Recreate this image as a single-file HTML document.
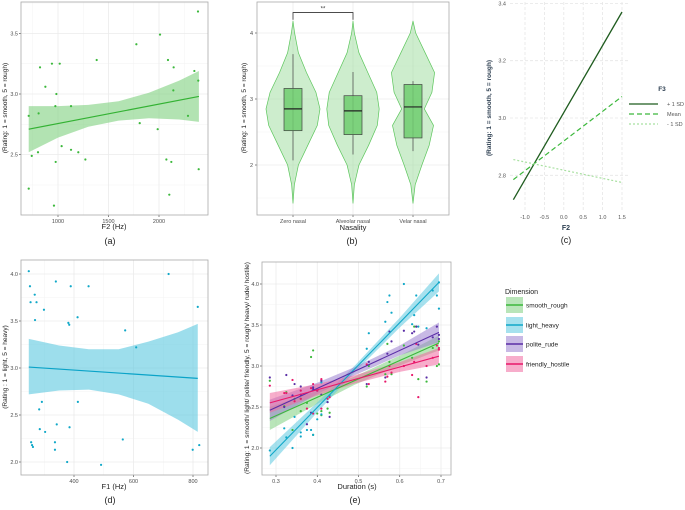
<!DOCTYPE html>
<html><head><meta charset="utf-8"><style>
html,body{margin:0;padding:0;background:#fff}
svg{display:block;font-family:"Liberation Sans",sans-serif}
</style></head><body>
<svg id="fig" width="685" height="510" viewBox="0 0 685 510" xmlns="http://www.w3.org/2000/svg"></svg>
<script>
// ---------- DATA ----------
// (a) F2 vs roughness
const aF2 = [710,740,710,822,808,875,802,940,1017,984,974,1129,1036,1129,1201,977,1271,960,1383,1776,1809,2010,1987,2089,2145,2142,2073,2122,2102,2287,2350,2389,2386,2393];
const aRating = [2.82,2.49,2.22,3.22,2.84,3.06,2.52,3.25,3.25,3.0,2.9,2.9,2.57,2.54,2.52,2.44,2.46,2.08,3.28,3.41,2.76,3.49,2.71,3.28,3.22,3.03,2.46,2.44,2.17,2.82,3.19,3.11,3.68,2.38];
const aFitX = [710,2395];
const aFitY = [2.71,2.98];
const aBandX = [710,1000,1300,1600,1900,2200,2395];
const aBandLo = [2.52,2.64,2.73,2.78,2.80,2.79,2.77];
const aBandHi = [2.90,2.90,2.91,2.94,3.01,3.11,3.19];
const aXTicks = [1000,1500,2000];
const aYTicks = [2.5,3.0,3.5];
// (b) nasality violins
const bCats = ["Zero nasal","Alveolar nasal","Velar nasal"];
const bGrid = [1.42,1.7,2.0,2.3,2.6,2.85,3.1,3.4,3.7,4.0,4.18];
const bDensZero = [0,0.05,0.2,0.55,0.9,1.0,0.85,0.5,0.2,0.06,0];
const bDensAlv = [0,0.05,0.22,0.58,0.9,0.97,0.88,0.55,0.22,0.05,0];
const bDensVel = [0,0.08,0.33,0.6,0.76,0.42,0.7,0.8,0.45,0.1,0];
const bQ1 = [2.52,2.46,2.41];
const bMed = [2.85,2.82,2.88];
const bQ3 = [3.16,3.05,3.22];
const bLo = [2.07,2.16,2.21];
const bHi = [3.68,3.41,3.27];
const bYTicks = [2,3,4];
// (c) interaction
const cX = [-1.3,1.5];
const cPlus = [2.715,3.37];
const cMean = [2.785,3.075];
const cMinus = [2.855,2.775];
const cXTicks = [-1.0,-0.5,0.0,0.5,1.0,1.5];
const cYTicks = [2.8,3.0,3.2,3.4];
const cLegend = ["+ 1 SD","Mean","- 1 SD"];
// (d) F1 vs heaviness
const dF1 = [248,252,254,268,274,269,299,339,389,449,412,381,384,572,609,718,816,292,283,413,285,303,342,385,256,259,262,336,336,377,491,564,799,821];
const dRating = [4.03,3.87,3.70,3.78,3.70,3.51,3.62,3.92,3.87,3.87,3.54,3.48,3.46,3.40,3.22,4.0,3.65,2.64,2.56,2.64,2.35,2.32,2.40,2.37,2.21,2.18,2.16,2.21,2.13,2.0,1.97,2.24,2.13,2.18];
const dFitX = [248,816];
const dFitY = [3.01,2.89];
const dBandX = [248,350,450,550,650,750,816];
const dBandLo = [2.72,2.76,2.77,2.72,2.62,2.45,2.32];
const dBandHi = [3.31,3.24,3.20,3.20,3.28,3.38,3.47];
const dXTicks = [400,600,800];
const dYTicks = [2.0,2.5,3.0,3.5,4.0];
// (e) duration vs all dimensions
const eDur = [0.285,0.32,0.325,0.34,0.345,0.36,0.36,0.375,0.385,0.39,0.39,0.40,0.41,0.41,0.425,0.43,0.52,0.525,0.565,0.57,0.575,0.58,0.61,0.63,0.635,0.64,0.645,0.665,0.68,0.69,0.695,0.695];
const eSmooth = [2.82,2.51,2.68,2.22,2.6,2.45,2.6,2.55,3.11,3.19,2.16,2.42,2.4,2.45,2.48,2.43,2.75,3.0,2.9,3.27,3.05,2.9,3.25,3.1,3.48,3.48,2.84,2.81,3.22,3.0,3.02,3.3];
const eLight = [1.97,2.24,2.13,2.0,2.38,2.14,2.19,2.22,2.22,2.42,2.16,2.35,2.41,2.8,2.56,2.64,3.21,3.40,3.54,3.78,3.86,3.65,4.0,3.51,3.62,3.86,3.48,3.46,3.92,3.86,4.02,3.70];
const ePolite = [2.86,2.5,2.89,2.64,2.78,2.75,2.65,2.29,2.43,2.72,2.74,2.7,2.65,2.82,2.56,2.38,2.78,3.05,2.86,3.15,3.42,3.3,3.43,3.4,3.42,3.48,3.26,2.86,3.35,3.48,3.38,3.33];
const eFriendly = [2.76,2.67,2.67,2.83,2.57,2.7,2.6,2.48,2.73,2.78,2.42,2.7,2.48,2.84,2.6,2.62,3.02,2.78,2.81,2.87,3.0,2.92,3.0,2.89,3.05,3.27,2.62,3.0,3.1,3.25,3.2,3.22];
const eFitX = [0.285,0.695];
const eFitSmooth = [2.36,3.28];
const eFitLight = [1.90,4.02];
const eFitPolite = [2.46,3.41];
const eFitFriendly = [2.55,3.12];
const eSeX = [0.285,0.4,0.49,0.6,0.695];
const eSeSmooth = [0.14,0.08,0.05,0.06,0.09];
const eSeLight = [0.11,0.06,0.04,0.06,0.11];
const eSePolite = [0.13,0.07,0.05,0.06,0.12];
const eSeFriendly = [0.12,0.07,0.05,0.06,0.10];
const eNames = ["smooth_rough","light_heavy","polite_rude","friendly_hostile"];
const eXTicks = [0.3,0.4,0.5,0.6,0.7];
const eYTicks = [2.0,2.5,3.0,3.5,4.0];

// ---------- HELPERS ----------
const NS="http://www.w3.org/2000/svg";
const svg=document.getElementById('fig');
function el(tag,attrs,parent){const e=document.createElementNS(NS,tag);for(const k in attrs)e.setAttribute(k,attrs[k]);(parent||svg).appendChild(e);return e;}
function txt(s,x,y,size,fill,anchor,parent,extra){const t=el('text',Object.assign({x:x,y:y,'font-size':size,fill:fill,'text-anchor':anchor||'middle'},extra||{}),parent);t.textContent=s;return t;}
function lerp(xs,ys,x){for(let i=0;i<xs.length-1;i++){if(x<=xs[i+1]){const t=(x-xs[i])/(xs[i+1]-xs[i]);return ys[i]+t*(ys[i+1]-ys[i]);}}return ys[ys.length-1];}
const GRID='#ebebeb', TICK='#4d4d4d';

function panelFrame(g,x0,x1,y0,y1,sx,sy,xt,yt,xminor,yminor,fmtX,fmtY){
  el('rect',{x:x0,y:y0,width:x1-x0,height:y1-y0,fill:'#fff'},g);
  (xminor||[]).forEach(v=>{const x=sx(v);if(x>x0&&x<x1)el('line',{x1:x,x2:x,y1:y0,y2:y1,stroke:'#f3f3f3','stroke-width':0.5},g);});
  (yminor||[]).forEach(v=>{const y=sy(v);if(y>y0&&y<y1)el('line',{x1:x0,x2:x1,y1:y,y2:y,stroke:'#f3f3f3','stroke-width':0.5},g);});
  xt.forEach(v=>{const x=sx(v);el('line',{x1:x,x2:x,y1:y0,y2:y1,stroke:GRID,'stroke-width':0.8},g);
    el('line',{x1:x,x2:x,y1:y1,y2:y1+2,stroke:'#333','stroke-width':0.6},g);
    const t=txt(fmtX?fmtX(v):String(v),x,y1+8,5.5,TICK,'middle',g);
    
    });
  yt.forEach(v=>{const y=sy(v);el('line',{x1:x0,x2:x1,y1:y,y2:y,stroke:GRID,'stroke-width':0.8},g);
    el('line',{x1:x0-2,x2:x0,y1:y,y2:y,stroke:'#333','stroke-width':0.6},g);
    const t=txt(fmtY?fmtY(v):String(v),x0-3,y+2,5.5,TICK,'end',g);
    
    });
}
function border(g,x0,x1,y0,y1){el('rect',{x:x0,y:y0,width:x1-x0,height:y1-y0,fill:'none',stroke:'#aaa','stroke-width':0.8},g);}
function band(g,xs,lo,hi,sx,sy,fill,op){let d='';xs.forEach((x,i)=>{d+=(i?'L':'M')+sx(x)+','+sy(hi[i]);});for(let i=xs.length-1;i>=0;i--)d+='L'+sx(xs[i])+','+sy(lo[i]);return el('path',{d:d+'Z',fill:fill,'fill-opacity':op},g);}
function ytitle(g,s,x,y,size,fill,extra){return txt(s,x,y,size,fill,'middle',g,Object.assign({transform:`rotate(-90 ${x} ${y})`},extra||{}));}

// ---------- PANEL A ----------
(function(){
  const g=el('g',{});
  
  
  const sx=v=>58+(v-1000)*50.5/500, sy=v=>94-(v-3)*121.3;
  panelFrame(g,21,208,2,215,sx,sy,aXTicks,aYTicks,[750,1250,1750,2250],[2.25,2.75,3.25,3.75],null,v=>v.toFixed(1));
  const b=band(g,aBandX,aBandLo,aBandHi,sx,sy,'#7fd07f',0.6);
  
  
  const l=el('line',{x1:sx(aFitX[0]),y1:sy(aFitY[0]),x2:sx(aFitX[1]),y2:sy(aFitY[1]),stroke:'#33b233','stroke-width':1.2},g);
  
  
  aF2.forEach((v,i)=>{const c=el('circle',{cx:sx(v),cy:sy(aRating[i]),r:1.1,fill:'#3cb83c'},g);
    
    });
  border(g,21,208,2,215);
  const xt=txt('F2 (Hz)',114,229,7.5,'#222','middle',g);
  
  
  const yt=ytitle(g,'(Rating: 1 = smooth,  5 = rough)',7,108,6.5,'#222');
  
  
  const cap=txt('(a)',110,244,9,'#222','middle',g);
  
  
})();

// ---------- PANEL B ----------
(function(){
  const g=el('g',{});
  
  
  const cx=[293,353,413];
  const sy=v=>99-(v-3)*66;
  el('rect',{x:257,y:2,width:192,height:213,fill:'#fff'},g);
  [1.5,2.5,3.5].forEach(v=>el('line',{x1:257,x2:449,y1:sy(v),y2:sy(v),stroke:'#f3f3f3','stroke-width':0.5},g));
  bYTicks.forEach(v=>{el('line',{x1:257,x2:449,y1:sy(v),y2:sy(v),stroke:GRID,'stroke-width':0.8},g);
    el('line',{x1:255,x2:257,y1:sy(v),y2:sy(v),stroke:'#333','stroke-width':0.6},g);
    const t=txt(String(v),253,sy(v)+2,5.5,TICK,'end',g);
    
    });
  cx.forEach((x,i)=>{el('line',{x1:x,x2:x,y1:2,y2:215,stroke:GRID,'stroke-width':0.8},g);
    el('line',{x1:x,x2:x,y1:215,y2:217,stroke:'#333','stroke-width':0.6},g);
    const t=txt(bCats[i],x,223,5.5,TICK,'middle',g);
    
    });
  const dens=[bDensZero,bDensAlv,bDensVel];
  cx.forEach((x,i)=>{
    let d='';bGrid.forEach((v,j)=>{d+=(j?'L':'M')+(x+dens[i][j]*27)+','+sy(v);});
    for(let j=bGrid.length-1;j>=0;j--)d+='L'+(x-dens[i][j]*27)+','+sy(bGrid[j]);
    const p=el('path',{d:d+'Z',fill:'#9bdc9b','fill-opacity':0.5,stroke:'#5cc65c','stroke-width':0.7,'stroke-linejoin':'round'},g);
    
    
    el('line',{x1:x,x2:x,y1:sy(bLo[i]),y2:sy(bHi[i]),stroke:'#444','stroke-width':0.7},g);
    const r=el('rect',{x:x-9,y:sy(bQ3[i]),width:18,height:sy(bQ1[i])-sy(bQ3[i]),fill:'#6fcc6f','fill-opacity':0.85,stroke:'#444','stroke-width':0.7},g);
    
    
    el('line',{x1:x-9,x2:x+9,y1:sy(bMed[i]),y2:sy(bMed[i]),stroke:'#222','stroke-width':1.2},g);
  });
  const by=sy(4.31);
  const br=el('path',{d:`M${cx[0]},${sy(4.2)}V${by}H${cx[1]}V${sy(4.2)}`,fill:'none',stroke:'#333','stroke-width':0.8},g);
  
  
  const st=txt('**',323,by-2,6,'#333','middle',g);
  
  
  border(g,257,449,2,215);
  const xt=txt('Nasality',353,230,7.5,'#222','middle',g);
  
  
  const yt=ytitle(g,'(Rating: 1 = smooth,  5 = rough)',246,108,6.5,'#222');
  
  
  const cap=txt('(b)',352,244,9,'#222','middle',g);
  
  
})();

// ---------- PANEL C ----------
(function(){
  const g=el('g',{});
  
  
  const sx=v=>525+(v+1)*38.8, sy=v=>118-(v-3)*286.5;
  cXTicks.forEach(v=>{el('line',{x1:sx(v),x2:sx(v),y1:2,y2:212,stroke:'#e6e6e6','stroke-width':0.8,'stroke-dasharray':'3,2'},g);
    const t=txt(v.toFixed(1),sx(v),219,5.5,'#555','middle',g);
    
    });
  cYTicks.forEach(v=>{el('line',{x1:510,x2:628,y1:sy(v),y2:sy(v),stroke:'#e6e6e6','stroke-width':0.8,'stroke-dasharray':'3,2'},g);
    const t=txt(v.toFixed(1),506,sy(v)+2,5.5,'#555','end',g);
    
    });
  const series=[[cPlus,'#1f5c1f','none',1.3],[cMean,'#3cb83c','5,3',1.2],[cMinus,'#a8e0a0','2,2',1.2]];
  series.forEach((s,i)=>{const l=el('line',{x1:sx(cX[0]),y1:sy(s[0][0]),x2:sx(cX[1]),y2:sy(s[0][1]),stroke:s[1],'stroke-width':s[3],'stroke-dasharray':s[2]},g);
    
    
    el('line',{x1:629,x2:658,y1:104+i*10,y2:104+i*10,stroke:s[1],'stroke-width':s[3],'stroke-dasharray':s[2]},g);
    const t=txt(cLegend[i],667,106+i*10,5.5,'#555','start',g);
    
    });
  const lt=txt('F3',662,91,6.5,'#2c3e50','middle',g,{'font-weight':'bold'});
  
  
  const xt=txt('F2',566,230,7,'#2c3e50','middle',g,{'font-weight':'bold'});
  
  
  const yt=ytitle(g,'(Rating: 1 = smooth,  5 = rough)',491,108,6.5,'#2c3e50',{'font-weight':'bold'});
  
  
  const cap=txt('(c)',566,243,9,'#222','middle',g);
  
  
})();

// ---------- PANEL D ----------
(function(){
  const g=el('g',{});
  
  
  const sx=v=>74+(v-400)*0.2975, sy=v=>368-(v-3)*94;
  panelFrame(g,21,208,260,475,sx,sy,dXTicks,dYTicks,[300,500,700],[2.25,2.75,3.25,3.75],null,v=>v.toFixed(1));
  const b=band(g,dBandX,dBandLo,dBandHi,sx,sy,'#5cc8e0',0.6);
  
  
  const l=el('line',{x1:sx(dFitX[0]),y1:sy(dFitY[0]),x2:sx(dFitX[1]),y2:sy(dFitY[1]),stroke:'#0aa3c8','stroke-width':1.2},g);
  
  
  dF1.forEach((v,i)=>{const c=el('circle',{cx:sx(v),cy:sy(dRating[i]),r:1.1,fill:'#10a8c8'},g);
    
    });
  border(g,21,208,260,475);
  const xt=txt('F1 (Hz)',114,489,7.5,'#222','middle',g);
  
  
  const yt=ytitle(g,'(Rating : 1 = light,  5 = heavy)',7,367,6.5,'#222');
  
  
  const cap=txt('(d)',110,503,9,'#222','middle',g);
  
  
})();

// ---------- PANEL E ----------
(function(){
  const g=el('g',{});
  
  
  const sx=v=>276+(v-0.3)*412.5, sy=v=>366-(v-3)*82;
  panelFrame(g,262,451,262,475,sx,sy,eXTicks,eYTicks,[0.35,0.45,0.55,0.65],[1.75,2.25,2.75,3.25,3.75],v=>v.toFixed(1),v=>v.toFixed(1));
  const vals=[eSmooth,eLight,ePolite,eFriendly];
  const fits=[eFitSmooth,eFitLight,eFitPolite,eFitFriendly];
  const ses=[eSeSmooth,eSeLight,eSePolite,eSeFriendly];
  const lineC=['#3cb83c','#10a8c8','#5a2ea6','#e8186a'];
  const fillC=['#7fd07f','#5cc8e0','#9b7fd0','#f06aa0'];
  [0,1,2,3].forEach(k=>{
    const xs=eSeX;
    const lo=xs.map((x,i)=>lerp(eFitX,fits[k],x)-ses[k][i]);
    const hi=xs.map((x,i)=>lerp(eFitX,fits[k],x)+ses[k][i]);
    const b=band(g,xs,lo,hi,sx,sy,fillC[k],0.55);
    
    
  });
  [0,1,2,3].forEach(k=>{
    eDur.forEach((d,i)=>{const c=el('circle',{cx:sx(d),cy:sy(vals[k][i]),r:1.1,fill:lineC[k]},g);
      
      });
  });
  [0,1,2,3].forEach(k=>{
    const l=el('line',{x1:sx(eFitX[0]),y1:sy(fits[k][0]),x2:sx(eFitX[1]),y2:sy(fits[k][1]),stroke:lineC[k],'stroke-width':1.1},g);
    
    
  });
  border(g,262,451,262,475);
  const xt=txt('Duration (s)',357,489,7.5,'#222','middle',g);
  
  
  const yt=ytitle(g,'(Rating: 1 = smooth/ light/ polite/ friendly,  5 = rough/ heavy/ rude/ hostile)',249,368,6.2,'#222',{textLength:212,lengthAdjust:'spacingAndGlyphs'});
  
  
  const cap=txt('(e)',355,503,9,'#222','middle',g);
  
  
  // legend
  const lg=el('g',{});
  
  
  const lt=txt('Dimension',505,294,7,'#222','start',lg);
  
  
  [0,1,2,3].forEach(k=>{
    const yc=[305,325,344,364][k];
    el('rect',{x:506,y:yc-8,width:17,height:16,fill:fillC[k],'fill-opacity':0.55},lg);
    el('line',{x1:506,x2:523,y1:yc,y2:yc,stroke:lineC[k],'stroke-width':1.6},lg);
    const t=txt(eNames[k],526,yc+2.5,6.5,'#222','start',lg);
    
    
  });
})();
</script>
</body></html>
